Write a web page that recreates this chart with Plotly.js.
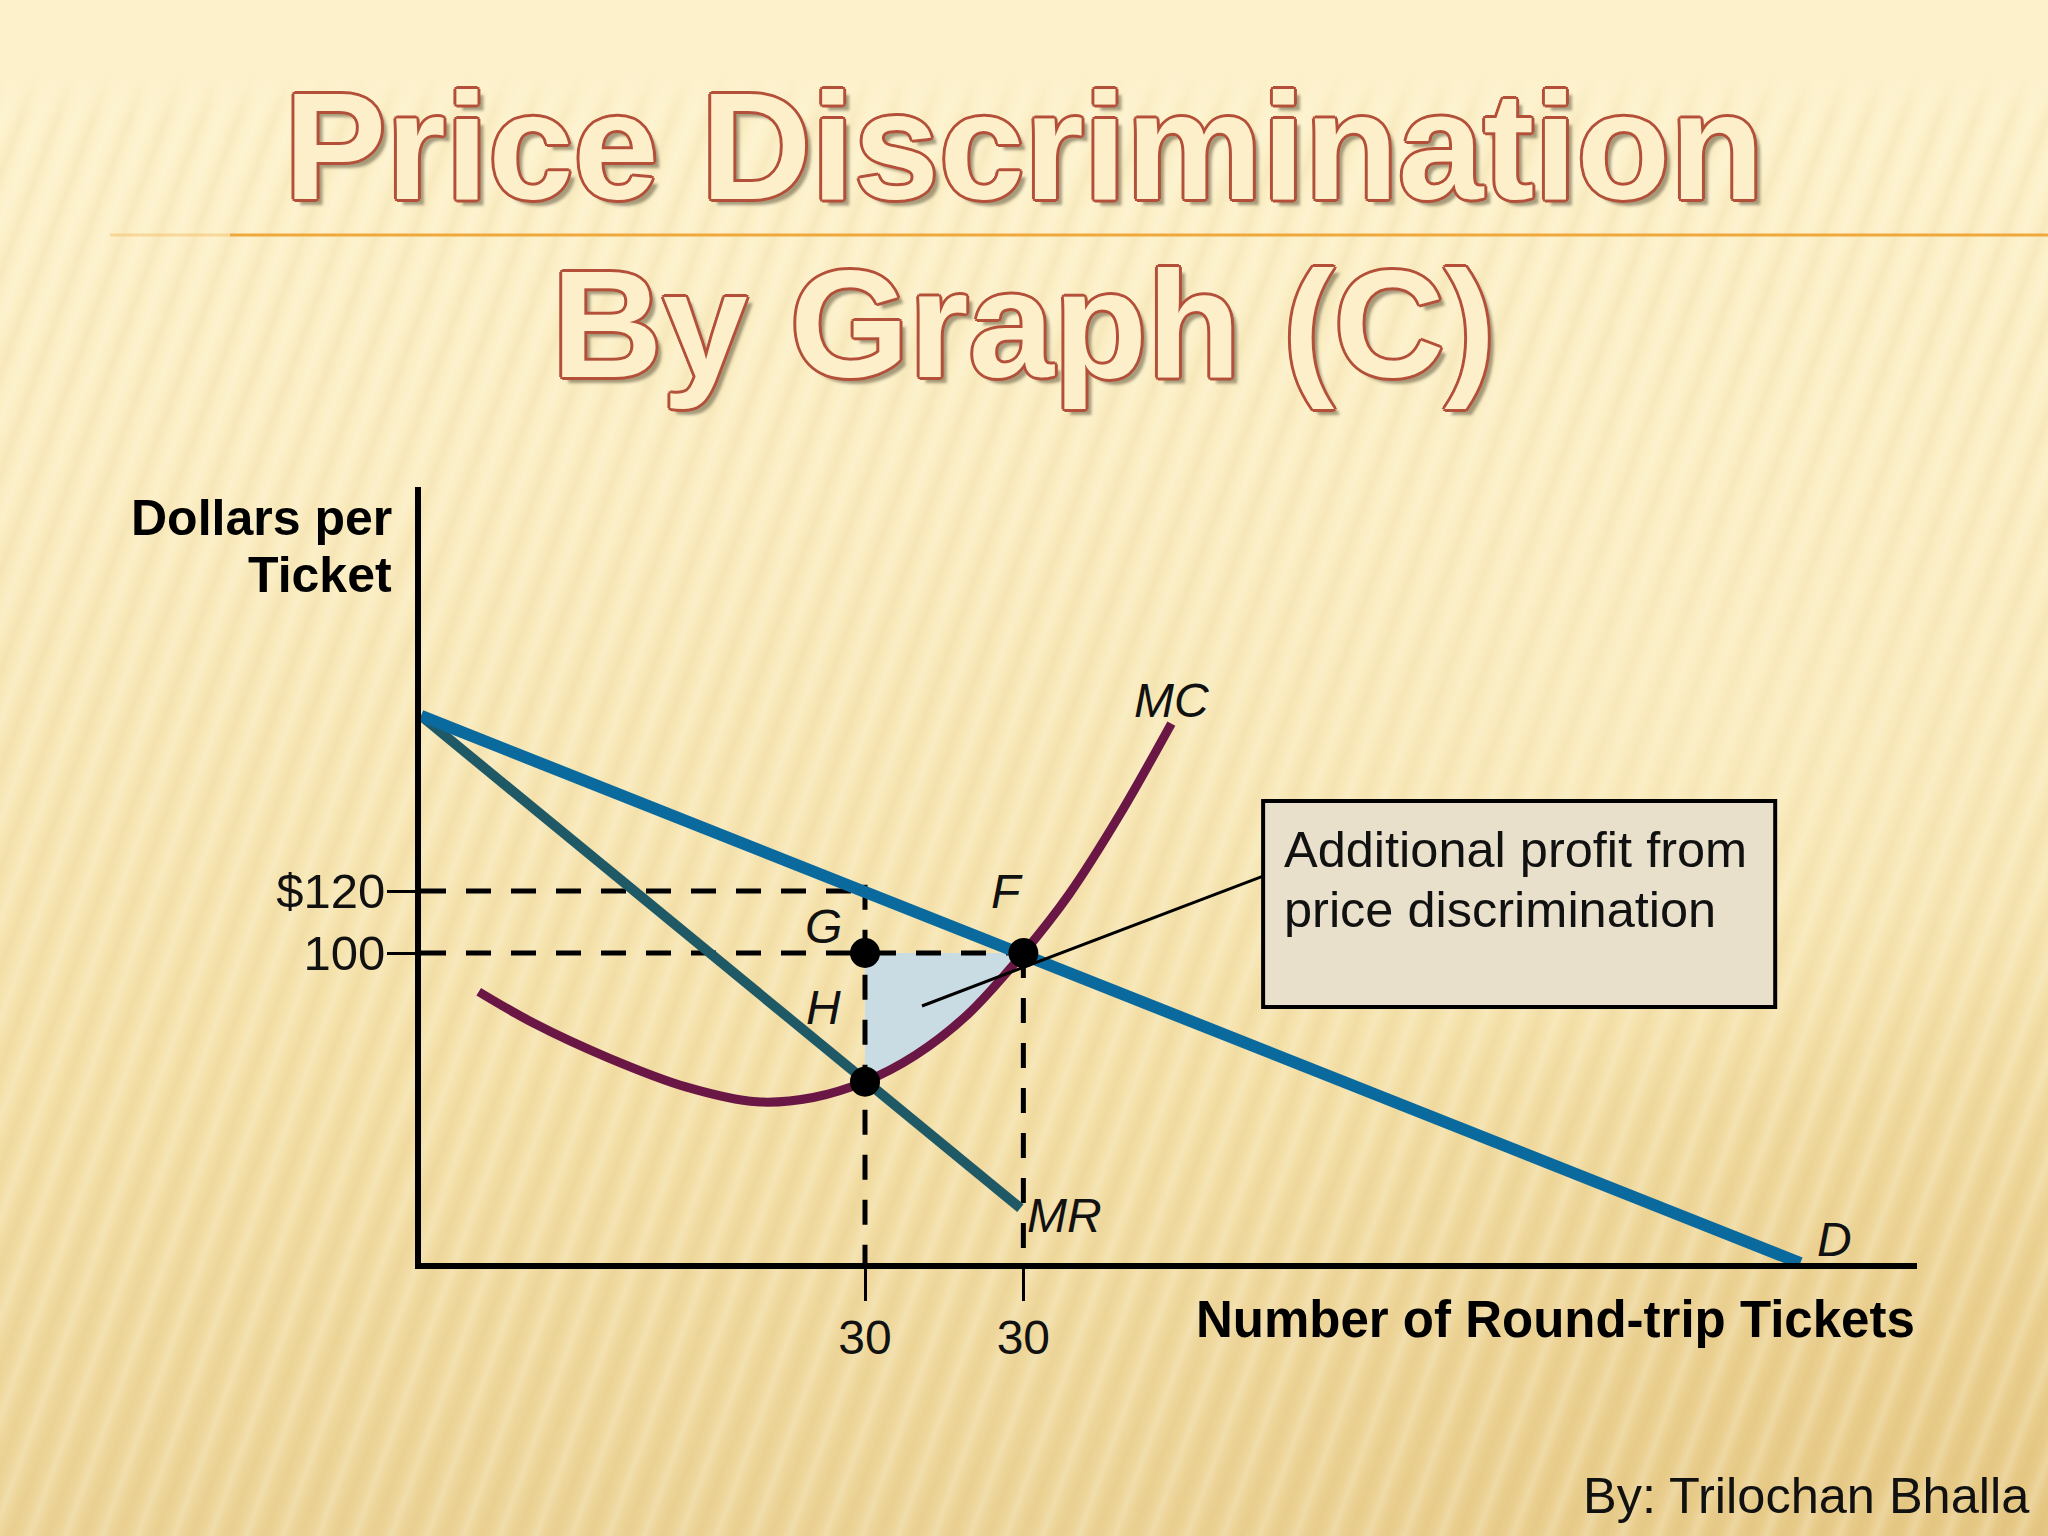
<!DOCTYPE html>
<html>
<head>
<meta charset="utf-8">
<script src="https://cdn.plot.ly/plotly-3.0.1.min.js"></script>
<style>
  html, body { margin: 0; padding: 0; }
  body {
    width: 2048px; height: 1536px; overflow: hidden;
    background:
      linear-gradient(to bottom, #fdf1cc 0px, #fdf1cc 70px, rgba(253,241,204,0) 120px),
      radial-gradient(ellipse 900px 600px at 1700px 700px, rgba(255,245,210,0.35), rgba(255,245,210,0) 70%),
      repeating-linear-gradient(110deg, rgba(255,255,255,0) 0px, rgba(255,252,235,0.24) 9px, rgba(255,255,255,0) 18px, rgba(190,150,70,0.07) 26px, rgba(255,255,255,0) 34px),
      radial-gradient(ellipse 1400px 900px at 2048px 1536px, rgba(222,186,110,0.45), rgba(222,186,110,0) 70%),
      linear-gradient(to bottom, #fdf2cc 0%, #fbedc2 30%, #f4e0a8 70%, #ecd396 100%);
  }
  #chart { width: 2048px; height: 1536px; }
</style>
</head>
<body>
<div id="chart"></div>
<script>
// ---- Data ----
const tickQ = [30, 40.7];            // quantity positions of the two x ticks
const tickQLabels = ['30', '30'];    // tick labels as printed
const tickP = [100, 120];            // price positions of the y ticks
const tickPLabels = ['100', '$120'];

const demandQ = [0, 93.2];
const demandP = [176.5, 0];

const mrQ = [0, 40.5];
const mrP = [176.5, 17.7];

const mcQ = [3.9, 7.6, 12.7, 17.9, 22.7, 26.5, 30, 33.4, 36.9, 40.7, 43.8, 47.2, 50.7];
const mcP = [87.5, 77.4, 66.1, 56.8, 52.0, 53.4, 58.5, 67.0, 80.0, 100, 119.0, 144.5, 174.0];

const pointNames = ['G', 'H', 'F'];
const pointQ = [30, 30, 40.7];
const pointP = [100, 58.5, 100];

// ---- Styling ----
const FONT = 'Liberation Sans, Arial, Helvetica, sans-serif';
const W = 2048, H = 1536;
const M = { l: 421, r: 131, t: 487, b: 273 };
const plotW = W - M.l - M.r, plotH = H - M.t - M.b;
const px = x => (x - M.l) / plotW;            // pixel -> paper x
const py = y => (H - M.b - y) / plotH;        // pixel -> paper y

const dash = '25px,20px';

// shaded area: MC segment from H to F, then the line G-F filled to it
const iH = mcQ.indexOf(30), iF = mcQ.indexOf(40.7);
const segQ = mcQ.slice(iH, iF + 1), segP = mcP.slice(iH, iF + 1);

const traces = [
  { x: segQ, y: segP, mode: 'lines', line: { width: 0, shape: 'spline' }, hoverinfo: 'skip', showlegend: false },
  { x: [pointQ[0], pointQ[2]], y: [pointP[0], pointP[2]], mode: 'lines', line: { width: 0 },
    fill: 'tonexty', fillcolor: '#c9dce4', hoverinfo: 'skip', showlegend: false },
  // dashed guides
  { x: [0, tickQ[0]], y: [tickP[1], tickP[1]], mode: 'lines', line: { color: '#000', width: 5, dash: dash }, showlegend: false },
  { x: [0, tickQ[1]], y: [tickP[0], tickP[0]], mode: 'lines', line: { color: '#000', width: 5, dash: dash }, showlegend: false },
  { x: [tickQ[0], tickQ[0]], y: [tickP[1] + 2, 0], mode: 'lines', line: { color: '#000', width: 5, dash: dash }, showlegend: false },
  { x: [tickQ[1], tickQ[1]], y: [tickP[0], 0], mode: 'lines', line: { color: '#000', width: 5, dash: dash }, showlegend: false },
  // curves
  { x: mrQ, y: mrP, mode: 'lines', name: 'MR', line: { color: '#1f5966', width: 10 }, showlegend: false },
  { x: demandQ, y: demandP, mode: 'lines', name: 'D', line: { color: '#0a6a9e', width: 12 }, showlegend: false },
  { x: mcQ, y: mcP, mode: 'lines', name: 'MC', line: { color: '#6b1745', width: 9, shape: 'spline', smoothing: 1 }, showlegend: false },
  // points
  { x: pointQ, y: pointP, text: pointNames, mode: 'markers', marker: { color: '#000', size: 30 }, cliponaxis: false, showlegend: false }
];

const outline = '#b4503a';
const shadow = [
  `3px 0 0 ${outline}`, `-3px 0 0 ${outline}`, `0 3px 0 ${outline}`, `0 -3px 0 ${outline}`,
  `2px 2px 0 ${outline}`, `-2px -2px 0 ${outline}`, `2px -2px 0 ${outline}`, `-2px 2px 0 ${outline}`,
  `6px 6px 3px rgba(95,85,60,0.55)`
].join(', ');
const titleFont = { family: FONT, size: 153, color: '#fcefc9', shadow: shadow };

const italic = { family: FONT, size: 48, color: '#111', style: 'italic' };
const annotations = [
  // second title line
  { xref: 'paper', yref: 'paper', x: px(1024), y: py(323), xanchor: 'center', yanchor: 'middle',
    text: '<b>By Graph (C)</b>', showarrow: false, font: titleFont },
  { x: 39.6, y: 119.7, text: 'F', showarrow: false, font: italic },
  { x: 27.2, y: 108.7, text: 'G', showarrow: false, font: italic },
  { x: 27.2, y: 82.3, text: 'H', showarrow: false, font: italic },
  { x: 50.7, y: 181.4, text: 'MC', showarrow: false, font: italic },
  { x: 43.5, y: 15.2, text: 'MR', showarrow: false, font: italic },
  { x: 95.5, y: 7.6, text: 'D', showarrow: false, font: italic },
  // axis titles
  { xref: 'paper', yref: 'paper', x: px(394), y: py(518), xanchor: 'right', yanchor: 'middle',
    text: '<b>Dollars per</b>', showarrow: false, font: { family: FONT, size: 50, color: '#000' } },
  { xref: 'paper', yref: 'paper', x: px(394), y: py(575), xanchor: 'right', yanchor: 'middle',
    text: '<b>Ticket</b>', showarrow: false, font: { family: FONT, size: 50, color: '#000' } },
  { xref: 'paper', yref: 'paper', x: px(1917), y: py(1319), xanchor: 'right', yanchor: 'middle',
    text: '<b>Number of Round-trip Tickets</b>', showarrow: false, font: { family: FONT, size: 51, color: '#000' } },
  // callout text
  { x: 58.2, y: 133.5, xanchor: 'left', yanchor: 'middle', text: 'Additional profit from', showarrow: false,
    font: { family: FONT, size: 50.5, color: '#111' } },
  { x: 58.2, y: 113.9, xanchor: 'left', yanchor: 'middle', text: 'price discrimination', showarrow: false,
    font: { family: FONT, size: 50.5, color: '#111' } },
  // author
  { xref: 'paper', yref: 'paper', x: px(2032), y: py(1495), xanchor: 'right', yanchor: 'middle',
    text: 'By: Trilochan Bhalla', showarrow: false, font: { family: FONT, size: 50.5, color: '#111' } }
];

const shapes = [
  // decorative rule between the title lines
  { type: 'line', xref: 'paper', yref: 'paper', x0: px(110), x1: px(230), y0: py(235), y1: py(235),
    line: { color: 'rgba(240,168,60,0.35)', width: 3 }, layer: 'below' },
  { type: 'line', xref: 'paper', yref: 'paper', x0: px(230), x1: px(2048), y0: py(235), y1: py(235),
    line: { color: '#f0a83c', width: 3 }, layer: 'below' },
  // callout box and pointer
  { type: 'rect', x0: 56.9, x1: 91.5, y0: 82.6, y1: 149.0, fillcolor: '#e9e0cb', line: { color: '#000', width: 4 }, layer: 'above' },
  { type: 'line', x0: 33.85, y0: 82.9, x1: 56.9, y1: 124.8, line: { color: '#000', width: 3 } }
];

const layout = {
  width: W, height: H,
  margin: M,
  paper_bgcolor: 'rgba(0,0,0,0)',
  plot_bgcolor: 'rgba(0,0,0,0)',
  showlegend: false,
  title: {
    text: '<b>Price Discrimination</b>',
    x: 1024 / W, xanchor: 'center',
    y: 1 - 145 / H, yanchor: 'middle', yref: 'container',
    font: titleFont
  },
  xaxis: {
    range: [0, plotW / 14.8],
    showline: true, linecolor: '#000', linewidth: 6,
    showgrid: false, zeroline: false,
    tickmode: 'array', tickvals: tickQ, ticktext: tickQLabels,
    ticks: 'outside', ticklen: 32, tickwidth: 3, tickcolor: '#000',
    ticklabelstandoff: -5,
    tickfont: { family: FONT, size: 48, color: '#111' },
    fixedrange: true
  },
  yaxis: {
    range: [0, plotH / 3.1],
    showline: true, linecolor: '#000', linewidth: 6,
    showgrid: false, zeroline: false,
    tickmode: 'array', tickvals: tickP, ticktext: tickPLabels,
    ticks: 'outside', ticklen: 28, tickwidth: 3, tickcolor: '#000',
    ticklabelstandoff: -8,
    tickfont: { family: FONT, size: 49, color: '#111' },
    fixedrange: true
  },
  annotations: annotations,
  shapes: shapes
};

Plotly.newPlot('chart', traces, layout, { displayModeBar: false, staticPlot: true });
</script>
</body>
</html>
